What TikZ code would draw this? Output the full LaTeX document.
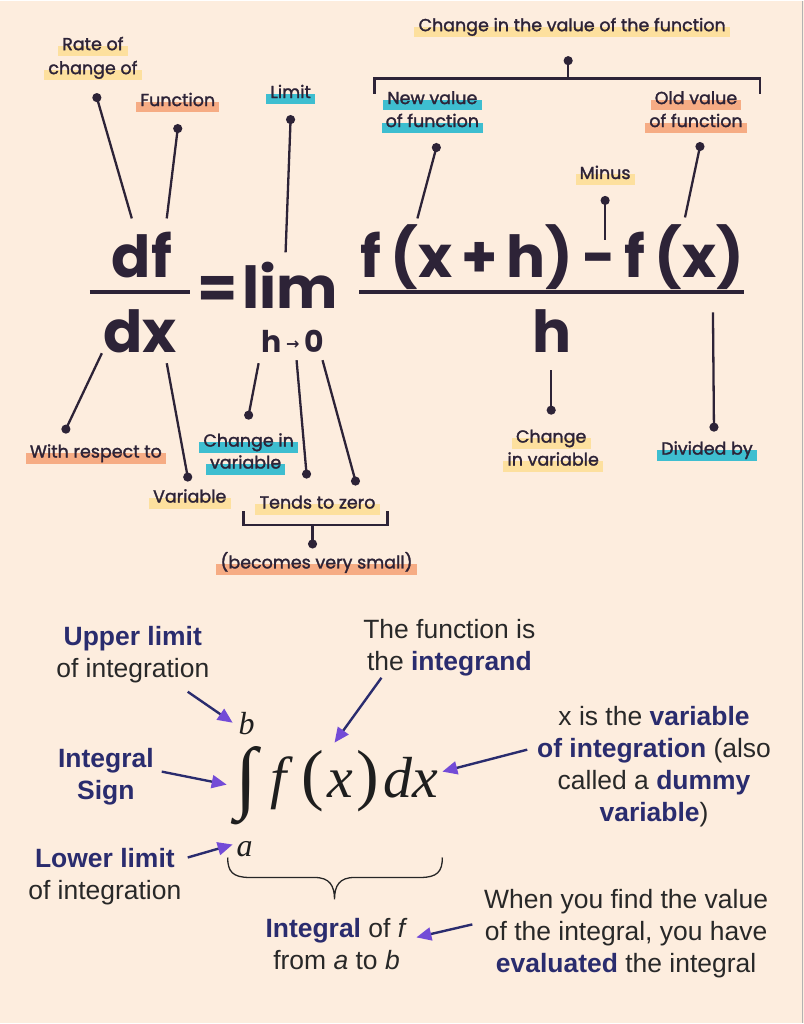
\documentclass[tikz,border=0pt]{standalone}
\usepackage{fontspec}
\setmainfont{Liberation Sans}
\newfontfamily\pop{Poppins}
\newfontfamily\popm[FakeBold=1.6]{Poppins}
\newfontfamily\djv{DejaVu Sans}
\newfontfamily\ser{Liberation Serif}
\usetikzlibrary{arrows.meta,calc}
\pgfdeclarelayer{pagebg}
\pgfdeclarelayer{hl}
\pgfsetlayers{pagebg,hl,main}
\definecolor{bgc}{RGB}{253,237,222}
\definecolor{ink}{RGB}{45,35,55}
\definecolor{hly}{RGB}{253,224,158}
\definecolor{hlo}{RGB}{246,172,132}
\definecolor{hlc}{RGB}{62,190,208}
\definecolor{navy}{RGB}{42,44,110}
\definecolor{txt}{RGB}{40,40,40}
\definecolor{arrowp}{RGB}{115,75,215}
\definecolor{mathc}{RGB}{30,30,30}
\newcommand{\nb}[1]{\textcolor{navy}{\bfseries #1}}
\newcommand{\hlab}[4]{%
  \node[lbl] (#1) at (#2) {#4};
  \begin{pgfonlayer}{hl}
  \fill[#3] ([xshift=-3pt,yshift=-1pt]#1.south west) rectangle ([xshift=3pt]#1.east);
  \end{pgfonlayer}}
\newcommand{\pin}[4]{%
  \coordinate (#1) at (#2); \coordinate (#3) at (#4);
  \draw[conn] (#1) -- (#3); \fill[ink] (#1) circle (4.6pt);}
\newcommand{\bigpar}[1]{{\upshape\fontsize{68}{68}\selectfont #1}}
\begin{document}
\begin{tikzpicture}[x=1pt,y=-1pt,
  lbl/.style={font=\popm\fontsize{17.5}{19}\selectfont, text=ink, inner sep=1pt, text height=13pt, text depth=4pt},
  big/.style={font=\pop\bfseries\fontsize{58}{70}\selectfont, text=ink, inner sep=0pt, anchor=base},
  conn/.style={draw=ink, line width=2.3pt},
  brk/.style={draw=ink, line width=2.6pt},
  btxt/.style={font=\fontsize{26.5}{32}\selectfont, text=txt, align=center, inner sep=0pt},
  mth/.style={font=\ser\itshape, text=mathc, inner sep=0pt},
  arr/.style={draw=navy, line width=2.4pt, -{Triangle[length=15pt,width=13pt,color=arrowp]}}]
\begin{pgfonlayer}{pagebg}
\fill[bgc] (0,0) rectangle (805,1024);
\draw[gray!60, line width=1.5pt] (803.5,0) -- (803.5,1024);
\end{pgfonlayer}
\useasboundingbox (0,0) rectangle (805,1024);

% ---------- derivative ----------
\node[big] (df) at (142,277) {df};
\node[big] (dx) at (140,352) {dx};
\draw[ink, line width=4pt] (90,292) -- (190,292);
\node[big, anchor=center] (eq) at (218,292) {=};
\node[big] (lim) at (291,308) {lim};
\node[font=\pop\bfseries\fontsize{30}{34}\selectfont, text=ink, inner sep=0pt, anchor=base] (hto) at (293,352) {h\,\raisebox{3pt}{\djv\fontsize{16}{16}\selectfont →}\,0};
\node[big] (num) at (553,277) {\spaceskip=9pt f (x + h) - f (x)};
\node[big] (den) at (553,352) {h};
\draw[ink, line width=4pt] (360,292) -- (745,292);

% top labels
\hlab{rate1}{93,45}{hly}{Rate of}
\hlab{rate2}{93,69}{hly}{change of}
\hlab{func}{178,101}{hlo}{Function}
\hlab{limt}{291,93}{hlc}{Limit}
\hlab{chg}{573,26}{hly}{Change in the value of the function}
\hlab{new1}{433,99}{hlc}{New value}
\hlab{new2}{433,122}{hlc}{of function}
\hlab{old1}{697,99}{hlo}{Old value}
\hlab{old2}{697,122}{hlo}{of function}
\hlab{minus}{606,174}{hly}{Minus}
% bottom labels
\hlab{wrt}{96,453}{hlo}{With respect to}
\hlab{var}{190,498}{hly}{Variable}
\hlab{ci1}{249,442}{hlc}{Change in}
\hlab{ci2}{246,464}{hlc}{variable}
\hlab{tz}{318,504}{hly}{Tends to zero}
\hlab{bvs}{317,564}{hlo}{(becomes very small)}
\hlab{civ1}{552,438}{hly}{Change}
\hlab{civ2}{554,461}{hly}{in variable}
\hlab{div}{708,450}{hlc}{Divided by}

% pins
\pin{p1}{97,97}{q1}{132,218}
\pin{p2}{178,128}{q2}{167,218}
\pin{p3}{291,119}{q3}{286,252}
\pin{p4}{437,147}{q4}{418,218}
\pin{p5}{701,146}{q5}{686,217}
\pin{p6}{606,200}{q6}{606,240}
\pin{p7}{66,429}{q7}{102,353}
\pin{p8}{188,477}{q8}{167,363}
\pin{p9}{249,415}{q9}{259,363}
\pin{p10}{307,474}{q10}{297,360}
\pin{p11}{356,481}{q11}{323,360}
\pin{p12}{552,410}{q12}{552,370}
\pin{p13}{715,427}{q13}{714,312}

% brackets
\draw[brk] (375,93) -- (375,78) -- (761,78) -- (761,93);
\pin{p14}{569,60}{q14}{569,78}
\draw[brk] (244,511) -- (244,525) -- (388,525) -- (388,511);
\pin{p15}{313,544}{q15}{313,525}

% ---------- integral ----------
\node[inner sep=0pt, text=mathc] (int) at (247,786) {\ser\fontsize{80}{80}\selectfont ∫};
\node[mth, anchor=base west] (fx) at (271,798) {\fontsize{58}{60}\selectfont f\kern15pt\bigpar{(}\kern3pt x\kern3pt\bigpar{)}\kern5pt dx};
\node[mth] (ub) at (247,724) {\fontsize{32}{32}\selectfont b};
\node[mth] (lb) at (245,850) {\fontsize{32}{32}\selectfont a};

\node[btxt] (upper) at (133,655) {\nb{Upper limit}\\of integration};
\node[btxt] (isign) at (106,777) {\nb{Integral}\\\nb{Sign}};
\node[btxt] (lower) at (105,877) {\nb{Lower limit}\\of integration};
\node[btxt] (intgd) at (450,648) {The function is\\the \nb{integrand}};
\node[btxt] (varint) at (655,767) {x is the \nb{variable}\\\nb{of integration} (also\\called a \nb{dummy}\\\nb{variable})};
\node[btxt] (intof) at (337,945) {\nb{Integral} of \textit{f}\\from \textit{a} to \textit{b}};
\node[btxt] (eval) at (627,934) {When you find the value\\of the integral, you have\\\nb{evaluated} the integral};

\coordinate (a1s) at (188,692); \coordinate (a1e) at (233,723);
\coordinate (a2s) at (162,772); \coordinate (a2e) at (227,785);
\coordinate (a3s) at (188,858); \coordinate (a3e) at (233,845);
\coordinate (a4s) at (382,678); \coordinate (a4e) at (335,743);
\coordinate (a5s) at (528,750); \coordinate (a5e) at (443,772);
\coordinate (a6s) at (473,925); \coordinate (a6e) at (417,938);
\draw[arr] (a1s) -- (a1e);
\draw[arr] (a2s) -- (a2e);
\draw[arr] (a3s) -- (a3e);
\draw[arr] (a4s) -- (a4e);
\draw[arr] (a5s) -- (a5e);
\draw[arr] (a6s) -- (a6e);

\draw[black!85, line width=1.3pt] (228,858) .. controls (228,872) and (233,878) .. (250,878) -- (315,878) .. controls (330,878) and (335,886) .. (335,900) .. controls (335,886) and (340,878) .. (355,878) -- (421,878) .. controls (438,878) and (443,872) .. (443,858);
\end{tikzpicture}
\end{document}
